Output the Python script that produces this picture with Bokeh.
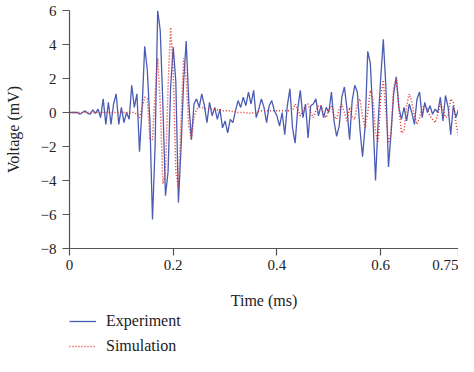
from bokeh.plotting import figure
from bokeh.layouts import column
from bokeh.models import Range1d, FixedTicker, Legend, LegendItem
from bokeh.embed import file_html
from bokeh.resources import INLINE

# Sampling interval of both traces (ms)
sample_interval_ms = 0.005

experiment_mV = [
    0.0, 0.0, 0.0, 0.0, -0.1, 0.0, 0.1, -0.05, -0.1, 0.15,
    -0.05, 0.2, -0.3, 0.8, -0.7, 0.6, -0.7, 0.5, 1.1, -0.7,
    0.3, -0.6, 0.0, -0.4, 1.6, 0.3, 1.1, -2.3, 0.3, 3.9,
    2.5, -0.5, -6.3, -2.0, 6.0, 4.8, 0.5, -4.9, -3.5, 1.5,
    3.85, 1.8, -5.3, -2.1, 1.8, 4.2, 0.6, -1.6, 0.5, 0.8,
    0.3, 1.1, 0.4, -0.6, 0.6, -0.2, 0.3, -0.4, 0.2, -0.9,
    -0.5, -1.2, -0.4, -0.6, 0.1, 0.7, 0.3, 0.9, 0.4, 1.2,
    0.5, 1.3, -0.3, 0.2, 0.8, 0.3, -0.6, 0.4, 0.7, 0.1,
    -0.2, -0.8, 0.0, -1.3, 0.4, 1.4, -0.9, -1.8, 0.2, 1.3,
    -0.3, 0.5, -1.5, 0.4, 0.5, 0.8, -0.2, 0.4, -0.3, 0.3,
    0.0, 1.2, -0.5, -1.4, -0.8, 0.9, 1.5, 0.2, -1.6, 0.7,
    1.6, 1.2, -1.0, -2.6, -0.8, 3.6, 2.9, -0.3, -4.0, -0.6,
    2.0, 4.3, 1.5, -3.2, -1.2, 1.1, 2.1, 0.3, -0.4, 0.3,
    -0.5, 0.5, 0.0, -0.7, 0.8, 1.2, -0.3, 0.6, 0.0, 0.4,
    -0.1, 0.2, 0.0, 0.9, -0.5, 1.0, 0.3, -1.3, 0.4, -0.3,
    0.2,
]

simulation_mV = [
    0.0, 0.0, 0.0, 0.0, 0.0, 0.0, 0.0, 0.0, 0.0, 0.0,
    0.0, 0.0, 0.0, 0.0, 0.0, 0.0, 0.0, 0.0, 0.0, 0.0,
    0.0, 0.0, 0.0, 0.0, 0.0, 0.0, -0.1, -0.3, 0.3, 0.9,
    0.8, -1.5, -1.6, 1.0, 3.2, 0.5, -4.2, -3.5, 1.5, 5.0,
    2.5, -3.5, -4.4, -0.5, 3.2, 2.0, -0.8, -1.6, -0.3, 0.2,
    0.3, 0.3, 0.25, 0.2, 0.2, 0.2, 0.2, 0.15, 0.15, 0.1,
    0.1, 0.1, 0.1, 0.05, 0.05, 0.0, 0.0, 0.0, 0.0, -0.05,
    -0.05, 0.0, 0.0, 0.05, 0.1, 0.1, 0.1, 0.1, 0.1, 0.1,
    0.1, 0.1, 0.1, 0.1, 0.1, 0.1, 0.1, 0.5, 0.2, -0.2,
    0.1, 0.4, 0.5, 0.0, -0.3, 0.1, 0.4, 0.4, -0.1, -0.3,
    0.2, 0.4, -0.2, -0.4, 0.2, 0.5, 0.0, -0.5, 0.3, -0.3,
    -0.4, 0.5, 0.8, -0.2, -0.9, 0.0, 1.3, 0.8, -1.2, -1.7,
    0.9, 1.9, 0.0, -1.8, -1.2, 1.5, 2.0, 0.3, -1.2, -1.1,
    0.4, 1.1, 0.6, -0.2, -0.7, -0.3, 0.3, 0.4, 0.2, -0.2,
    -0.4, -0.6, -0.1, 0.5, 0.2, -0.3, -0.2, 0.8, 0.6, -0.6,
    -1.4,
]

time_ms = [i * sample_interval_ms for i in range(len(experiment_mV))]

x_ticks = [0, 0.2, 0.4, 0.6, 0.75]
y_ticks = [-8, -6, -4, -2, 0, 2, 4, 6]
series_names = ["Experiment", "Simulation"]

FONT = "Liberation Serif"
AXIS_COLOR = "#555555"
EXP_COLOR = "#4a5cb3"
SIM_COLOR = "#e0312b"

p = figure(width=458, height=311, output_backend="svg", toolbar_location=None,
           x_range=Range1d(0, 0.75), y_range=Range1d(-8, 6),
           min_border_left=69, min_border_right=0, min_border_top=10,
           min_border_bottom=0)
p.outline_line_color = None
p.grid.visible = False

p.line(time_ms, experiment_mV, line_color=EXP_COLOR, line_width=1.3)
p.line(time_ms, simulation_mV, line_color=SIM_COLOR, line_width=1.5,
       line_dash="1 2")

p.xaxis.ticker = FixedTicker(ticks=x_ticks)
p.yaxis.ticker = FixedTicker(ticks=y_ticks)
p.xaxis.major_label_overrides = {0: "0", 0.2: "0.2", 0.4: "0.4", 0.6: "0.6", 0.75: "0.75"}

for ax in (p.xaxis[0], p.yaxis[0]):
    ax.axis_line_color = AXIS_COLOR
    ax.axis_line_width = 1.2
    ax.major_tick_line_color = AXIS_COLOR
    ax.major_tick_line_width = 1.2
    ax.minor_tick_line_color = None
    ax.major_tick_in = 0
    ax.major_tick_out = 7
    ax.major_label_text_font = FONT
    ax.major_label_text_font_size = "15px"
    ax.major_label_text_color = "#222222"
    ax.axis_label_text_font = FONT
    ax.axis_label_text_font_size = "16px"
    ax.axis_label_text_font_style = "normal"
    ax.axis_label_text_color = "#222222"

p.xaxis.axis_label = "Time (ms)"
p.yaxis.axis_label = "Voltage (mV)"
p.xaxis.major_label_standoff = 4
p.xaxis.axis_label_standoff = 19
p.yaxis.major_label_standoff = 6
p.yaxis.axis_label_standoff = 16

# Legend strip below the chart; its proxy lines use the same series but sit
# outside this strip's visible range, so only the legend shows.
pl = figure(width=458, height=45, output_backend="svg", toolbar_location=None,
            x_range=Range1d(10, 11), y_range=Range1d(10, 11),
            min_border_left=66, min_border_right=0, min_border_top=0,
            min_border_bottom=0)
pl.axis.visible = False
pl.grid.visible = False
pl.outline_line_color = None
le = pl.line(time_ms, experiment_mV, line_color=EXP_COLOR, line_width=1.3)
ls = pl.line(time_ms, simulation_mV, line_color=SIM_COLOR, line_width=1.5,
             line_dash="1 2")

legend = Legend(items=[LegendItem(label=series_names[0], renderers=[le]),
                       LegendItem(label=series_names[1], renderers=[ls])],
                location="top_left", orientation="vertical",
                padding=0, margin=0, spacing=5,
                glyph_width=27, glyph_height=20, label_height=20,
                label_standoff=10, border_line_color=None,
                background_fill_alpha=0,
                label_text_font=FONT, label_text_font_size="16px",
                label_text_color="#222222")
pl.add_layout(legend)

layout = column(p, pl, spacing=0)
open("out.html", "w").write(file_html(layout, INLINE))
